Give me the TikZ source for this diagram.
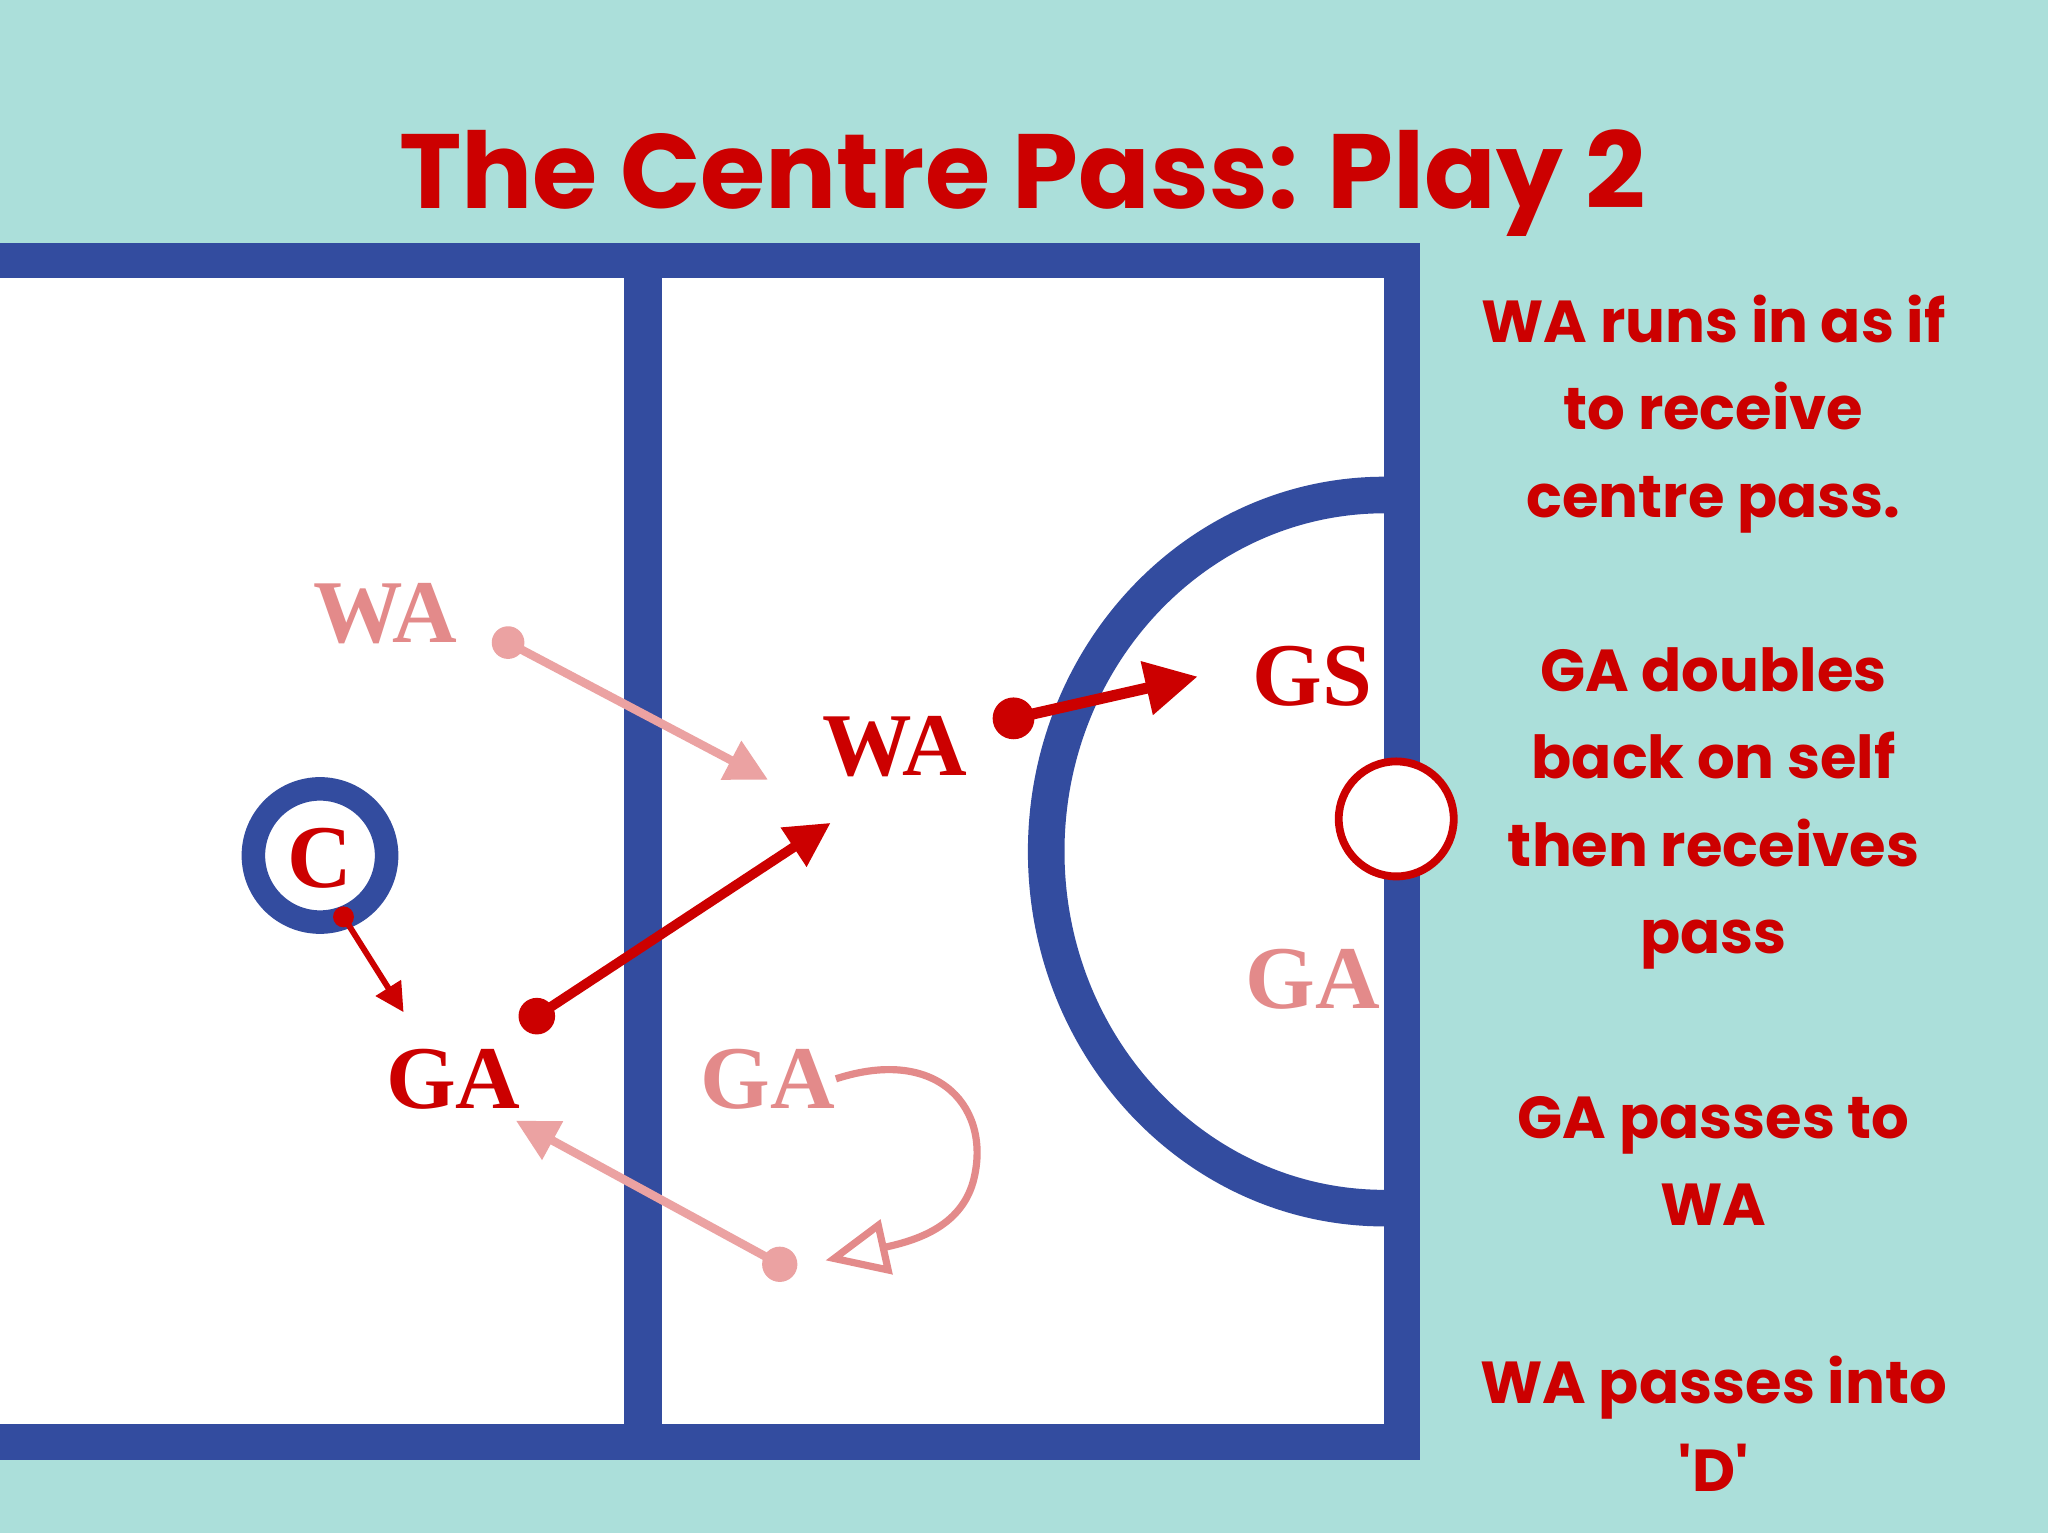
\documentclass[tikz,border=0pt]{standalone}
\usepackage{fontspec}
\setmainfont{Liberation Serif}
\newfontfamily\headfont{Poppins}
\usetikzlibrary{arrows.meta}
\definecolor{courtbg}{HTML}{ABDFDA}
\definecolor{courtblue}{HTML}{334C9F}
\definecolor{playred}{HTML}{CC0000}
\definecolor{fadered}{HTML}{E38A8A}
\definecolor{fadearrow}{HTML}{EBA2A2}
\tikzset{
  player/.style={font=\bfseries\fontsize{19.5}{19.5}\selectfont, text=playred, inner sep=0pt},
  ghost/.style={player, text=fadered},
  note/.style={font=\headfont\bfseries\fontsize{12.9}{19}\selectfont, text=playred, align=center},
  pass/.style={draw=playred, line width=0.075cm, -{Triangle[length=0.34cm,width=0.34cm]}},
  move/.style={draw=fadearrow, line width=0.065cm, -{Triangle[length=0.32cm,width=0.32cm]}},
  dot/.style={circle, inner sep=0pt, minimum size=#1}
}
\begin{document}
\begin{tikzpicture}[x=0.01cm,y=-0.01cm]
		% Background and court:
		\fill[courtbg] (0,0) rectangle (1568,1174);
		\useasboundingbox (0,0) rectangle (1568,1174);
		\fill[courtblue] (0,186) rectangle (1087,1118);
		\fill[white] (0,213) rectangle (478,1090);
		\fill[white] (507,213) rectangle (1060,1090);
		\begin{scope}
			\clip (507,213) rectangle (1060,1090);
			\draw[courtblue, line width=0.28cm] (1060,652) ellipse (259 and 273);
		\end{scope}
		\draw[courtblue, line width=0.18cm] (245,655) circle (51);
		\node[circle, draw=playred, fill=white, line width=0.06cm, minimum size=0.88cm] (ring) at (1069,627){};
		% Title and notes:
		\node[font=\headfont\bfseries\fontsize{23}{23}\selectfont, text=playred] (title) at (783,140){The Centre Pass: Play 2};
		\node[note] (noteA) at (1312,317){WA runs in as if\\to receive\\centre pass.};
		\node[note] (noteB) at (1312,619){GA doubles\\back on self\\then receives\\pass};
		\node[note] (noteC) at (1312,889){GA passes to\\WA};
		\node[note] (noteD) at (1312,1090){WA passes into\\'D'};
		% Players:
		\node[ghost] (waold) at (295,470){WA};
		\node[player] (wa) at (685,572){WA};
		\node[player] (gs) at (1005,518){GS};
		\node[ghost] (gaD) at (1005,750){GA};
		\node[player] (c) at (245,657){C};
		\node[player] (ga) at (347,826){GA};
		\node[ghost] (gaold) at (588,826){GA};
		% Passes and runs:
		\node[dot=0.25cm, fill=fadearrow] (waS) at (389,492){};
		\coordinate (waE) at (588,597);
		\draw[move] (waS.center) -- (waE);
		\node[dot=0.27cm, fill=fadearrow] (gaS) at (597,968){};
		\coordinate (gaE) at (395,858);
		\draw[move] (gaS.center) -- (gaE);
		\draw[draw=fadered, line width=0.055cm, -{Triangle[open,length=0.48cm,width=0.42cm]}]
			(640,826) .. controls (720,800) and (760,850) .. (745,905) .. controls (735,940) and (700,950) .. (632,965);
		\node[dot=0.16cm, fill=playred] (cS) at (263,702){};
		\coordinate (cE) at (309,775);
		\draw[pass, line width=0.045cm, -{Triangle[length=0.22cm,width=0.22cm]}] (cS.center) -- (cE);
		\node[dot=0.28cm, fill=playred] (gaP) at (411,778){};
		\coordinate (gaPE) at (636,630);
		\draw[pass] (gaP.center) -- (gaPE);
		\node[dot=0.32cm, fill=playred] (waP) at (776,550){};
		\coordinate (waPE) at (917,518);
		\draw[pass, line width=0.085cm, -{Triangle[length=0.4cm,width=0.4cm]}] (waP.center) -- (waPE);
	\end{tikzpicture}
\end{document}
